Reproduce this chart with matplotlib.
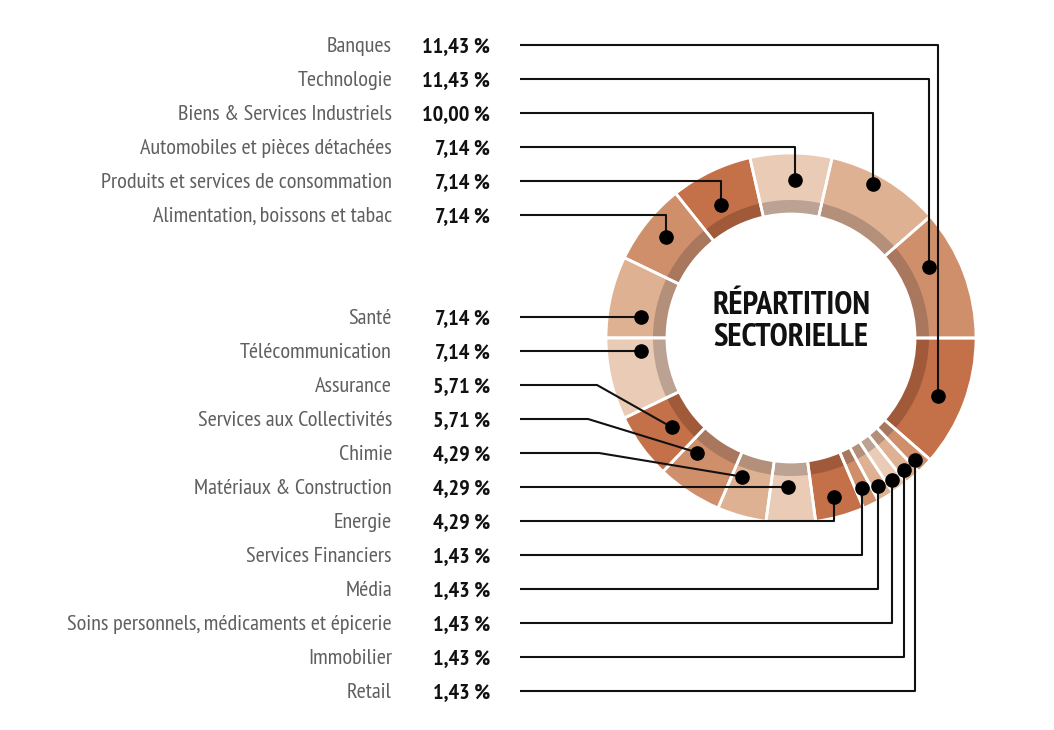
import numpy as np
import matplotlib.pyplot as plt

# Data: sectors as listed on the left, with their weights (%)
sectors = ['Banques', 'Technologie', 'Biens & Services Industriels',
           'Automobiles et pièces détachées', 'Produits et services de consommation',
           'Alimentation, boissons et tabac', 'Santé', 'Télécommunication',
           'Assurance', 'Services aux Collectivités', 'Chimie',
           'Matériaux & Construction', 'Energie', 'Services Financiers', 'Média',
           'Soins personnels, médicaments et épicerie', 'Immobilier', 'Retail']
weights = [11.43, 11.43, 10.00, 7.14, 7.14, 7.14, 7.14, 7.14,
           5.71, 5.71, 4.29, 4.29, 4.29, 1.43, 1.43, 1.43, 1.43, 1.43]
shade = ['dark', 'medium', 'light', 'lightest', 'dark', 'medium', 'light', 'lightest',
         'dark', 'medium', 'light', 'lightest', 'dark', 'medium', 'light', 'lightest',
         'light', 'medium']

outer_col = {'dark': '#C4714A', 'medium': '#D08F6B', 'light': '#DFB193', 'lightest': '#EACBB6'}
inner_col = {'dark': '#A05A39', 'medium': '#A8775D', 'light': '#B48F79', 'lightest': '#BCA293'}

# leader line style: v = horizontal then vertical, h = horizontal, d = elbow + diagonal
kind = ['v', 'v', 'v', 'v', 'v', 'v', 'h', 'h', 'd', 'd', 'd', 'h',
        'v', 'v', 'v', 'v', 'v', 'v']
elbow = {8: 597, 9: 588, 10: 599}
dot_frac = [0.48, 0.66, 0.58, 0.44, 0.58, 0.49, 0.69, 0.19, 0.54, 0.22, 0.25, 0.43,
            0.48, 0.43, 0.40, 0.39, 0.40, 0.35]
dot_r = [158, 155, 174, 158, 150, 161, 151, 151, 149, 148, 147, 147,
         165, 166, 172, 174, 174, 174]

plt.rcParams['font.family'] = ['PT Sans Narrow', 'DejaVu Sans']

W, H = 1054, 730
cx, cy = 791, 392
R, R_band, R_hole = 185, 138, 124

fig = plt.figure(figsize=(W / 100, H / 100), dpi=100)
ax = fig.add_axes([0, 0, 1, 1])

# ring order: Technologie first from 3 o'clock counter-clockwise, Banques last
order = list(range(1, len(sectors))) + [0]
vals = [weights[i] for i in order]

wedges, _ = ax.pie(vals, colors=[outer_col[shade[i]] for i in order], startangle=0,
                   counterclock=True, radius=R, center=(cx, cy),
                   wedgeprops=dict(width=R - R_hole, edgecolor='none'))
ax.pie(vals, colors=[inner_col[shade[i]] for i in order], startangle=0,
       counterclock=True, radius=R_band, center=(cx, cy),
       wedgeprops=dict(width=R_band - R_hole, edgecolor='none'))
ax.pie(vals, colors=['none'] * len(vals), startangle=0, counterclock=True,
       radius=R, center=(cx, cy),
       wedgeprops=dict(width=R - R_hole, edgecolor='white', linewidth=2))

ax.text(cx, cy + 16, 'RÉPARTITION\nSECTORIELLE', ha='center', va='center',
        fontsize=23.5, fontweight='bold', color='#111111', linespacing=1.1)

wedge_of = {sec: w for sec, w in zip(order, wedges)}
row_y = [685 - 34 * k for k in range(6)] + [413 - 34 * k for k in range(12)]

for i, name in enumerate(sectors):
    ly = row_y[i]
    ax.text(392, ly - 1.5, name, ha='right', va='center', fontsize=16, color='#5f5f5f')
    pct = f'{weights[i]:.2f}'.replace('.', ',') + ' %'
    ax.text(490, ly - 1.5, pct, ha='right', va='center', fontsize=16,
            fontweight='bold', color='#111111')

    w = wedge_of[i]
    ang = np.deg2rad(w.theta1 + dot_frac[i] * (w.theta2 - w.theta1))
    dx = cx + dot_r[i] * np.cos(ang)
    dy = cy + dot_r[i] * np.sin(ang)
    if kind[i] == 'v':
        xs, ys = [520, dx, dx], [ly, ly, dy]
    elif kind[i] == 'h':
        dy = ly
        xs, ys = [520, dx], [ly, ly]
    else:
        xs, ys = [520, elbow[i], dx], [ly, ly, dy]
    ax.plot(xs, ys, color='#111111', lw=1.5, solid_capstyle='butt', zorder=5)
    ax.plot(dx, dy, 'o', color='#000000', ms=9.5, zorder=6)

ax.set_xlim(0, W)
ax.set_ylim(0, H)
ax.set_aspect('equal')
ax.axis('off')

plt.savefig('out.png', dpi=100)
